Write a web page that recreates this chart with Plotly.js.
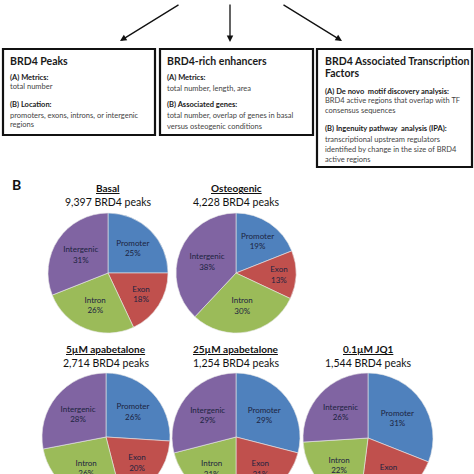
<!DOCTYPE html>
<html><head><meta charset="utf-8">
<script src="https://cdn.plot.ly/plotly-3.0.1.min.js"></script>
<style>html,body{margin:0;padding:0;overflow:hidden;background:#fff;width:474px;height:474px}#c{width:474px;height:540px}</style>
</head><body><div id="c"></div>
<script>
// ---- data ----
const regions = ['Promoter','Exon','Intron','Intergenic'];
const conditions = ['Basal','Osteogenic','5µM apabetalone','25µM apabetalone','0.1µM JQ1'];
const peakCounts = ['9,397','4,228','2,714','1,254','1,544'];
const basal = [25,18,26,31];
const osteogenic = [19,13,30,38];
const apa5 = [26,20,26,28];
const apa25 = [29,21,21,29];
const jq1 = [31,21,22,26];
const regionColors = ['#4F81BD','#C0504D','#9BBB59','#8064A2'];

// ---- geometry helpers (px -> paper) ----
const W=474,H=540;
const X=px=>px/W, Y=py=>1-py/H;
const pieGeom = [
  {cx:108,cy:273,r:60},{cx:236,cy:273,r:60},
  {cx:106,cy:437,r:64},{cx:236,cy:437,r:64},{cx:368,cy:438,r:65}
];
const series=[basal,osteogenic,apa5,apa25,jq1];
const FONT='Lato, "Open Sans", sans-serif';
const traces = series.map((vals,i)=>{
  const g=pieGeom[i];
  return {
    type:'pie', labels:regions, values:vals, sort:false, direction:'clockwise', rotation:0,
    marker:{colors:regionColors, line:{color:'#e8e8e8',width:0.6}},
    texttemplate:'%{label}<br>%{value}%', textposition:'inside', insidetextorientation:'horizontal',
    textfont:{family:FONT,size:8,color:'#1c2340'},
    hoverinfo:'none',
    domain:{x:[X(g.cx-g.r),X(g.cx+g.r)], y:[Y(g.cy+g.r),Y(g.cy-g.r)]}
  };
});

const ann=[];
// pie titles
conditions.forEach((c,i)=>{
  const g=pieGeom[i];
  const ty = i<2 ? 188 : 349;
  ann.push({xref:'paper',yref:'paper',x:X(g.cx),y:Y(ty),text:'<b><u>'+c+'</u></b>',showarrow:false,
    font:{family:FONT,size:10,color:'#111'},xanchor:'center',yanchor:'middle'});
  ann.push({xref:'paper',yref:'paper',x:X(g.cx),y:Y(ty+14),text:peakCounts[i]+' BRD4 peaks',showarrow:false,
    font:{family:FONT,size:10.5,color:'#111'},xanchor:'center',yanchor:'middle'});
});
ann.push({xref:'paper',yref:'paper',x:X(10),y:Y(185),text:'<b>B</b>',showarrow:false,
  font:{family:FONT,size:14,color:'#111'},xanchor:'left',yanchor:'middle'});

// arrows
[[120,41,180,4],[230,42,230,3],[342,41,282,4]].forEach(a=>{
  ann.push({xref:'paper',yref:'paper',x:X(a[0]),y:Y(a[1]),axref:'pixel',ayref:'pixel',
    ax:a[2]-a[0], ay:a[3]-a[1], showarrow:true, arrowhead:2, arrowsize:1, arrowwidth:1.3,
    arrowcolor:'#111', text:''});
});

// box texts: [x, y, text, bold, size]
const boxLines = [
  [8,61,'BRD4 Peaks',1,10.5],
  [8,77,'(A) Metrics:',1,7.5],[8,87,'total number',0,7.5],
  [8,105,'(B) Location:',1,7.5],[8,115,'promoters, exons, introns, or intergenic',0,7.5],[8,124,'regions',0,7.5],
  [165,61,'BRD4-rich enhancers',1,10.5],
  [165,77,'(A) Metrics:',1,7.5],[165,89,'total number, length, area',0,7.5],
  [165,104,'(B) Associated genes:',1,7.5],[165,115,'total number, overlap of genes in basal',0,7.5],[165,126,'versus osteogenic conditions',0,7.5],
  [323,61,'BRD4 Associated Transcription',1,10.5],[323,73,'Factors',1,10.5],
  [323,91,'(A) De novo  motif discovery analysis:',1,7.5],[323,101,'BRD4 active regions that overlap with TF',0,7.5],[323,111,'consensus sequences',0,7.5],
  [323,128,'(B) Ingenuity pathway  analysis (IPA):',1,7.5],[323,139,'transcriptional upstream regulators',0,7.5],
  [323,149,'identified by change in the size of BRD4',0,7.5],[323,159,'active regions',0,7.5]
];
boxLines.forEach(l=>{
  ann.push({xref:'paper',yref:'paper',x:X(l[0]),y:Y(l[1]),text:l[3]?'<b>'+l[2]+'</b>':l[2],showarrow:false,
    font:{family:FONT,size:l[4],color:l[3]?'#1a1a1a':'#444'},xanchor:'left',yanchor:'middle'});
});

const boxes=[[3,49,155,135],[160,49,313,135],[317,49,472,167]];
const shapes=boxes.map(b=>({type:'rect',xref:'paper',yref:'paper',x0:X(b[0]),x1:X(b[2]),y0:Y(b[3]),y1:Y(b[1]),
  line:{color:'#111',width:2.2}}));

Plotly.newPlot('c',traces,{width:W,height:H,margin:{l:0,r:0,t:0,b:0},paper_bgcolor:'#fff',
  showlegend:false,annotations:ann,shapes:shapes},{staticPlot:true,displayModeBar:false});
</script></body></html>
